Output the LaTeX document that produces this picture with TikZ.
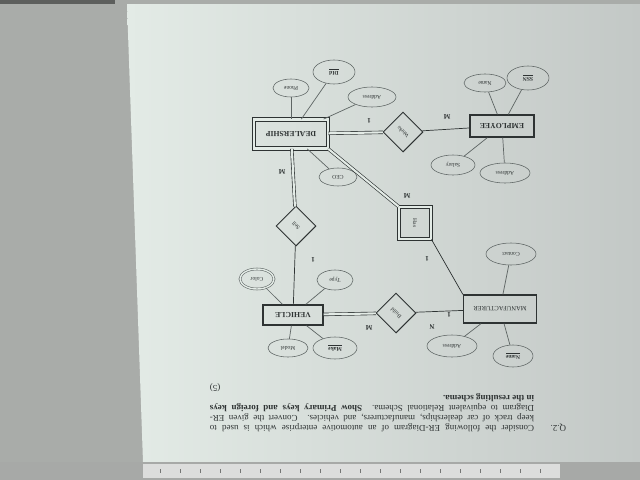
\documentclass[tikz,border=0pt]{standalone}
\usepackage{fontspec}
\setmainfont{Liberation Serif}
\usetikzlibrary{shapes.geometric}
\definecolor{ink}{HTML}{2E3333}
\definecolor{thin}{HTML}{5E6564}
\definecolor{desk}{HTML}{A9ACA9}
\definecolor{paper}{HTML}{E3EBE6}
\definecolor{paperedge}{HTML}{C3C8C6}
\definecolor{ruler}{HTML}{A7A9A7}
\newcommand\tilt[1]{\rotatebox{135}{#1}}
\tikzset{
  entity/.style={draw=ink, line width=.9pt, rotate=180, inner sep=0pt, font=\fontsize{5.5}{6}\selectfont\bfseries, text=ink},
  weak/.style={entity, double=paper, double distance=1.6pt, line width=.7pt},
  attr/.style={draw=thin, ellipse, line width=.4pt, rotate=180, inner sep=0pt, font=\fontsize{4}{4}\selectfont, text=ink},
  rel/.style={draw=ink, diamond, line width=.7pt, minimum size=1cm, inner sep=0pt, font=\fontsize{4}{4}\selectfont, text=ink},
  card/.style={rotate=180, inner sep=0pt, font=\fontsize{5}{5}\selectfont\bfseries, text=ink},
  link/.style={draw=ink, line width=.5pt},
  tot/.style={draw=ink, line width=.45pt, double=paper, double distance=1.5pt},
}
\begin{document}
\begin{tikzpicture}[x=.025cm, y=-.025cm]
  \useasboundingbox (0,0) rectangle (640,480);
  % desk, sheet and ruler
  \fill[desk] (0,0) rectangle (640,480);
  \fill[desk!55!black] (0,0) rectangle (115,4);
  \shade[left color=paper, middle color=paper, right color=paperedge] (127,4) -- (640,4) -- (640,462) -- (143,462) -- cycle;
  \fill[ruler] (0,462) rectangle (640,480);
  \fill[ruler!40!white] (143,464) rectangle (560,478);
  \foreach \x in {160,180,...,540}
    \draw[ruler!70!black, line width=.3pt] (\x,469) -- (\x,473);

  % entities and relationships
  \node[weak, minimum width=1.84cm, minimum height=.72cm] (dealer) at (291,134) {DEALERSHIP};
  \node[entity, minimum width=1.6cm, minimum height=.55cm] (employee) at (502,126) {EMPLOYEE};
  \node[entity, minimum width=1.5cm, minimum height=.5cm] (vehicle) at (293,315) {VEHICLE};
  \node[entity, minimum width=1.825cm, minimum height=.7cm, font=\fontsize{4.6}{5}\selectfont] (manuf) at (500,309) {MANUFACTURER};
  \node[weak, minimum size=.8cm, font=\fontsize{4}{4}\selectfont] (has) at (415,223) {\rotatebox{90}{Has}};
  \node[rel] (works) at (403,132) {\tilt{Works}};
  \node[rel] (sell) at (296,226) {\tilt{Sell}};
  \node[rel] (build) at (396,313) {\tilt{Build}};

  % attributes
  \node[attr, minimum width=.9cm, minimum height=.45cm] (dphone) at (291,88) {Phone};
  \node[attr, minimum width=1.05cm, minimum height=.6cm] (did) at (334,72) {\textbf{\underline{DId}}};
  \node[attr, minimum width=1.2cm, minimum height=.5cm] (daddr) at (372,97) {Address};
  \node[attr, minimum width=.95cm, minimum height=.45cm] (dceo) at (338,177) {CEO};
  \node[attr, minimum width=1.05cm, minimum height=.45cm] (ename) at (485,83) {Name};
  \node[attr, minimum width=1.05cm, minimum height=.6cm] (essn) at (528,78) {\textbf{\underline{SSN}}};
  \node[attr, minimum width=1.1cm, minimum height=.5cm] (esal) at (453,165) {Salary};
  \node[attr, minimum width=1.25cm, minimum height=.5cm] (eaddr) at (505,173) {Address};
  \node[attr, double=paper, double distance=1pt, minimum width=.85cm, minimum height=.5cm] (vcolor) at (257,279) {Color};
  \node[attr, minimum width=.9cm, minimum height=.5cm] (vtype) at (335,280) {Type};
  \node[attr, minimum width=1cm, minimum height=.45cm] (vmodel) at (288,348) {Model};
  \node[attr, minimum width=1.1cm, minimum height=.55cm] (vmake) at (335,348) {\textbf{\underline{Make}}};
  \node[attr, minimum width=1.25cm, minimum height=.55cm] (mcontact) at (511,254) {Contact};
  \node[attr, minimum width=1cm, minimum height=.55cm] (mname) at (513,356) {\textbf{\underline{Name}}};
  \node[attr, minimum width=1.25cm, minimum height=.55cm] (maddr) at (452,346) {Address};
  \foreach \a/\b in {dphone/dealer, did/dealer, daddr/dealer, dceo/dealer,
                     ename/employee, essn/employee, esal/employee, eaddr/employee,
                     vcolor/vehicle, vtype/vehicle, vmodel/vehicle, vmake/vehicle,
                     mcontact/manuf, mname/manuf, maddr/manuf}
    \draw[link, draw=thin] (\a) -- (\b);

  % connectors
  \draw[tot] (dealer) -- (works);
  \draw[link] (works) -- (employee);
  \draw[tot] (dealer) -- (sell);
  \draw[link] (sell) -- (vehicle);
  \draw[tot] (dealer.north west) -- (has.south east);
  \draw[link] (has.north west) -- (manuf.south east);
  \draw[tot] (vehicle) -- (build);
  \draw[link] (build) -- (manuf);

  % cardinalities
  \foreach \pos/\txt [count=\i] in {(369,121)/1, (447,117)/M, (282,172)/M, (407,196)/M, (313,260)/1,
                                    (427,259)/1, (369,328)/M, (432,327)/N, (449,315)/1}
    \node[card] (card\i) at \pos {\txt};

  % question text
  \node[rotate=180, inner sep=0pt, font=\fontsize{6.4}{7.1}\selectfont, text=ink] (task) at (388,408)
    {\makebox[.8cm][l]{Q.2.}\parbox[t]{8.1cm}{Consider the following ER-Diagram of an automotive enterprise which is used to\linebreak
     keep track of car dealerships, manufacturers, and vehicles. Convert the given ER-\linebreak
     Diagram to equivalent Relational Schema. \textbf{Show Primary keys and foreign keys}\linebreak
     \textbf{in the resulting schema.}\par\hfill(5)}};
\end{tikzpicture}
\end{document}
